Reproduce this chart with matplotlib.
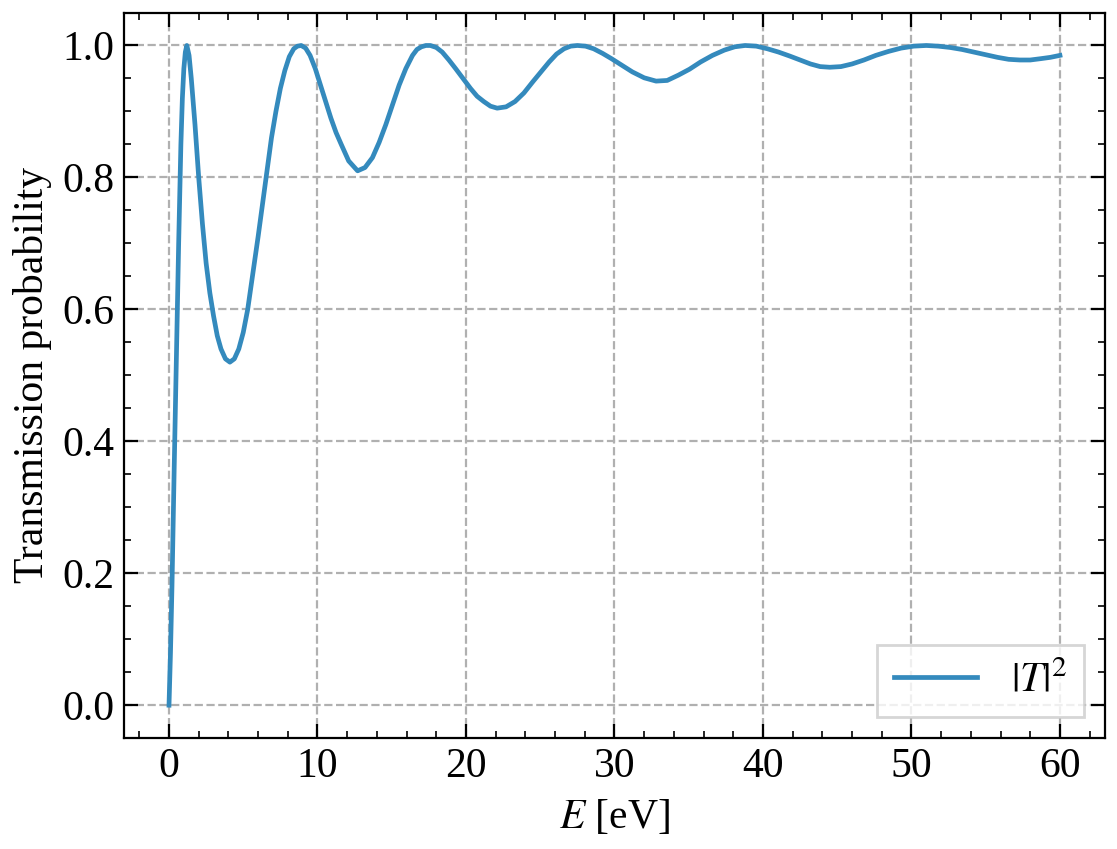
import numpy as np
import matplotlib.pyplot as plt

# values
energy = [0, 0.1, 0.2, 0.35, 0.5, 0.65, 0.8, 0.9, 1.0, 1.1, 1.2, 1.35, 1.5, 1.75, 2.0,
          2.25, 2.5, 2.75, 3.0, 3.25, 3.5, 3.8, 4.1, 4.4, 4.7, 5.0, 5.3, 5.65, 6.0,
          6.3, 6.6, 6.9, 7.2, 7.5, 7.8, 8.1, 8.4, 8.65, 8.9, 9.2, 9.5, 9.85, 10.2,
          10.55, 10.9, 11.25, 11.6, 12.1, 12.7, 13.2, 13.7, 14.15, 14.6, 15.05, 15.5,
          15.95, 16.4, 16.7, 17.0, 17.3, 17.6, 18.0, 18.4, 18.85, 19.3, 19.8, 20.3,
          20.75, 21.2, 21.65, 22.1, 22.7, 23.3, 23.9, 24.5, 25.05, 25.6, 26.1, 26.6,
          27.05, 27.5, 28.05, 28.6, 29.2, 29.8, 30.5, 31.2, 32.0, 32.8, 33.55, 34.3,
          35.05, 35.8, 36.6, 37.4, 38.1, 38.8, 39.55, 40.3, 41.05, 41.8, 42.5, 43.2,
          43.85, 44.5, 45.25, 46.0, 46.8, 47.6, 48.45, 49.3, 50.15, 51.0, 51.8, 52.6,
          53.4, 54.2, 55.0, 55.8, 56.55, 57.3, 58.0, 58.7, 59.35, 60]
trans = [0, 0.08, 0.18, 0.36, 0.53, 0.70, 0.85, 0.92, 0.965, 0.99, 1.0, 0.985, 0.95,
         0.88, 0.80, 0.73, 0.67, 0.625, 0.59, 0.56, 0.54, 0.525, 0.52, 0.525, 0.54,
         0.565, 0.60, 0.655, 0.71, 0.76, 0.81, 0.86, 0.90, 0.935, 0.962, 0.983, 0.995,
         0.999, 1.0, 0.996, 0.985, 0.965, 0.94, 0.915, 0.89, 0.868, 0.85, 0.825, 0.81,
         0.815, 0.83, 0.853, 0.88, 0.91, 0.94, 0.965, 0.985, 0.994, 0.998, 1.0, 1.0,
         0.997, 0.99, 0.978, 0.965, 0.95, 0.935, 0.923, 0.915, 0.908, 0.905, 0.907,
         0.915, 0.928, 0.945, 0.96, 0.975, 0.987, 0.995, 0.999, 1.0, 0.999, 0.995,
         0.988, 0.98, 0.97, 0.96, 0.951, 0.946, 0.947, 0.955, 0.964, 0.975, 0.985,
         0.993, 0.998, 1.0, 0.999, 0.995, 0.99, 0.984, 0.978, 0.972, 0.968, 0.967,
         0.968, 0.972, 0.978, 0.985, 0.991, 0.996, 0.999, 1.0, 0.999, 0.997, 0.994,
         0.99, 0.986, 0.982, 0.979, 0.978, 0.978, 0.980, 0.982, 0.985]

plt.rcParams["font.family"] = "serif"
plt.rcParams["font.serif"] = ["Liberation Serif", "DejaVu Serif"]
plt.rcParams["mathtext.fontset"] = "stix"
plt.rcParams["font.size"] = 15

fig, ax = plt.subplots(figsize=(5.585, 4.245), dpi=200)
ax.plot(energy, trans, color="#348ABD", linewidth=1.7, label=r"$|T|^2$")
ax.set_xlabel(r"$E$ [eV]")
ax.set_ylabel("Transmission probability")
ax.set_xlim(-3, 63)
ax.set_ylim(-0.05, 1.05)
ax.set_xticks(np.arange(0, 61, 10))
ax.set_yticks(np.arange(0, 1.01, 0.2))
ax.minorticks_on()
ax.tick_params(which="both", direction="in", top=True, right=True)
ax.tick_params(which="major", length=5)
ax.tick_params(which="minor", length=2.5)
ax.grid(True, which="major", linestyle="--", color="#b0b0b0", linewidth=0.8)
ax.legend(loc="lower right", fancybox=False, framealpha=0.8, edgecolor="#cccccc")

fig.tight_layout(pad=0.3)
fig.savefig("out.png", dpi=200)
